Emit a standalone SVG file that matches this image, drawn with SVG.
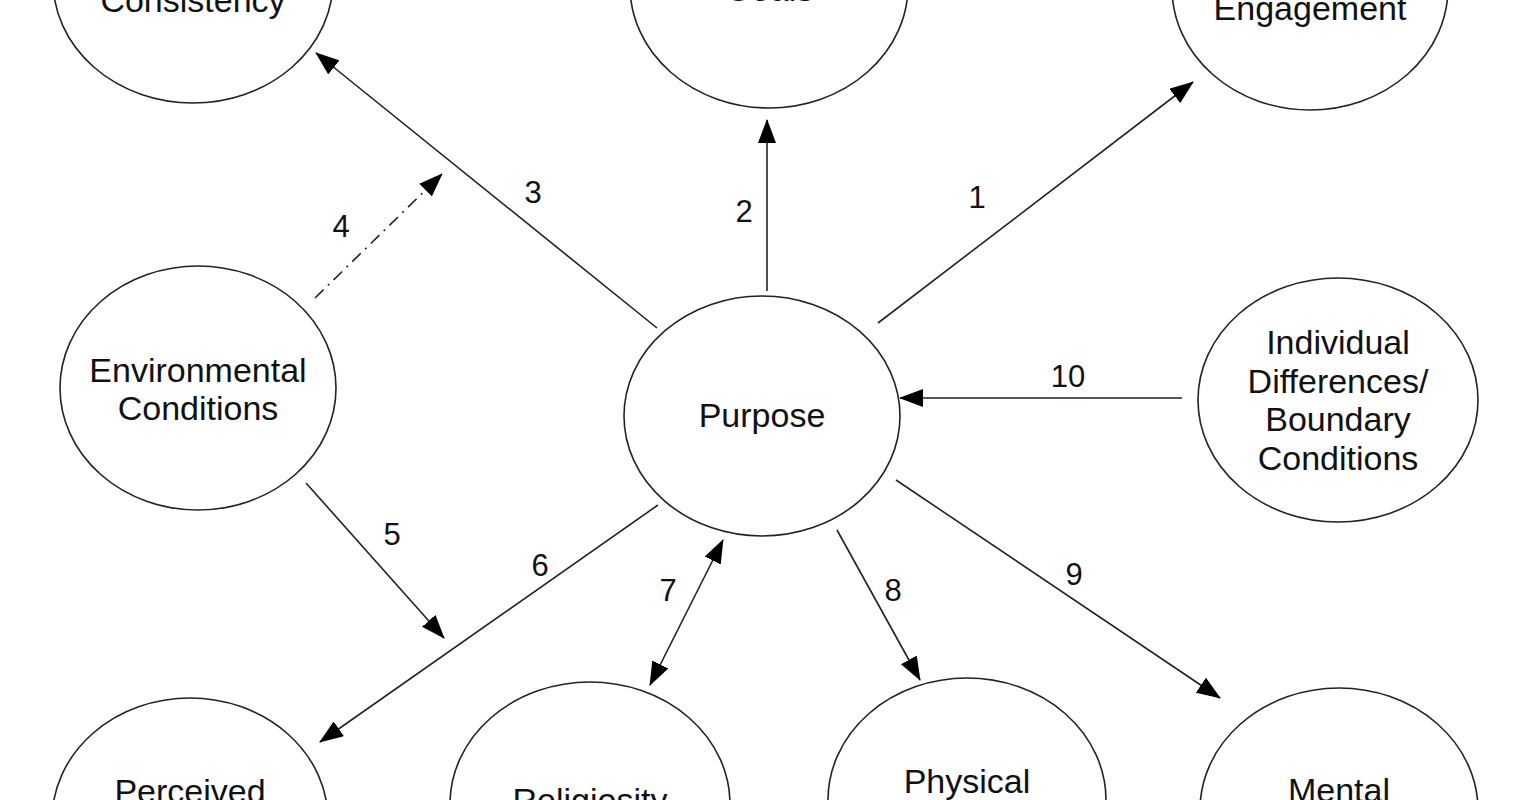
<svg xmlns="http://www.w3.org/2000/svg" width="1528" height="800" viewBox="0 0 1528 800">
<defs>
<style>
.node ellipse{fill:#fff;stroke:#222;stroke-width:1.6}
.node text{font-family:"Liberation Sans",Arial,sans-serif;font-size:34px;fill:#111;text-anchor:middle}
.edges line{stroke:#222;stroke-width:1.6;fill:none}
.edges .dd{stroke-dasharray:12 6 2 6}
.lbl{font-family:"Liberation Sans",Arial,sans-serif;font-size:31px;fill:#111;text-anchor:middle}
</style>
<marker id="ah" viewBox="0 0 24 18" refX="23" refY="9" markerWidth="24" markerHeight="18" markerUnits="userSpaceOnUse" orient="auto-start-reverse">
<path d="M0,0 L24,9 L0,18 Z" fill="#000"/>
</marker>
</defs>
<rect width="1528" height="800" fill="#fff"/>
<g class="edges">
<line x1="878" y1="323" x2="1193" y2="82" marker-end="url(#ah)"/>
<line x1="767" y1="291" x2="767" y2="120" marker-end="url(#ah)"/>
<line x1="657" y1="328" x2="316" y2="53" marker-end="url(#ah)"/>
<line class="dd" x1="315" y1="298" x2="442" y2="174" marker-end="url(#ah)"/>
<line x1="306" y1="483" x2="444" y2="638" marker-end="url(#ah)"/>
<line x1="658" y1="505" x2="320" y2="742" marker-end="url(#ah)"/>
<line x1="723" y1="540" x2="650" y2="685" marker-start="url(#ah)" marker-end="url(#ah)"/>
<line x1="837" y1="530" x2="920" y2="680" marker-end="url(#ah)"/>
<line x1="896" y1="480" x2="1220" y2="698" marker-end="url(#ah)"/>
<line x1="1182" y1="398" x2="900" y2="398" marker-end="url(#ah)"/>
<text class="lbl" x="977" y="208">1</text>
<text class="lbl" x="744" y="222">2</text>
<text class="lbl" x="533" y="203">3</text>
<text class="lbl" x="341" y="237">4</text>
<text class="lbl" x="392" y="545">5</text>
<text class="lbl" x="540" y="576">6</text>
<text class="lbl" x="668" y="601">7</text>
<text class="lbl" x="893" y="601">8</text>
<text class="lbl" x="1074" y="585">9</text>
<text class="lbl" x="1068" y="387">10</text>
</g>
<g id="consistency" class="node"><ellipse cx="193" cy="-19" rx="140" ry="122"/><text x="193" y="12">Consistency</text></g>
<g id="goals" class="node"><ellipse cx="769" cy="-14" rx="139" ry="122"/><text x="769" y="1">Goals</text></g>
<g id="engagement" class="node"><ellipse cx="1310" cy="-12" rx="138" ry="122"/><text x="1310" y="20">Engagement</text></g>
<g id="environmental" class="node"><ellipse cx="198" cy="388" rx="138" ry="122"/><text x="198" y="382">Environmental</text><text x="198" y="420">Conditions</text></g>
<g id="purpose" class="node"><ellipse cx="762" cy="416" rx="138" ry="120"/><text x="762" y="427">Purpose</text></g>
<g id="individual" class="node"><ellipse cx="1338" cy="400" rx="140" ry="122"/><text x="1338" y="354">Individual</text><text x="1338" y="393">Differences/</text><text x="1338" y="431">Boundary</text><text x="1338" y="470">Conditions</text></g>
<g id="perceived" class="node"><ellipse cx="190" cy="820" rx="138" ry="122"/><text x="190" y="803">Perceived</text></g>
<g id="religiosity" class="node"><ellipse cx="590" cy="804" rx="140" ry="122"/><text x="590" y="812">Religiosity</text></g>
<g id="physical" class="node"><ellipse cx="967" cy="800" rx="139" ry="122"/><text x="967" y="793">Physical</text></g>
<g id="mental" class="node"><ellipse cx="1339" cy="810" rx="139" ry="122"/><text x="1339" y="802">Mental</text></g>
</svg>
